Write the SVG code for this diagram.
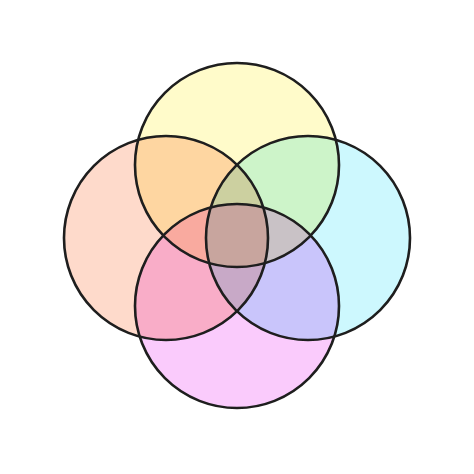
<svg xmlns="http://www.w3.org/2000/svg" width="474" height="474" viewBox="0 0 474 474">
  <style>
    .fill { stroke: none; mix-blend-mode: multiply; }
    .edge { fill: none; stroke: #1e1e1e; stroke-width: 2.6; }
  </style>
  <rect width="474" height="474" fill="#ffffff"/>
  <g id="fills" style="isolation:isolate">
    <circle class="fill" cx="237" cy="165" r="102" fill="#fffbca"/>
    <circle class="fill" cx="166" cy="238" r="102" fill="#fedacb"/>
    <circle class="fill" cx="308" cy="238" r="102" fill="#cdf8fe"/>
    <circle class="fill" cx="237" cy="306" r="102" fill="#facbfc"/>
  </g>
  <g id="top"><circle class="edge" cx="237" cy="165" r="102"/></g>
  <g id="left"><circle class="edge" cx="166" cy="238" r="102"/></g>
  <g id="right"><circle class="edge" cx="308" cy="238" r="102"/></g>
  <g id="bottom"><circle class="edge" cx="237" cy="306" r="102"/></g>
</svg>
